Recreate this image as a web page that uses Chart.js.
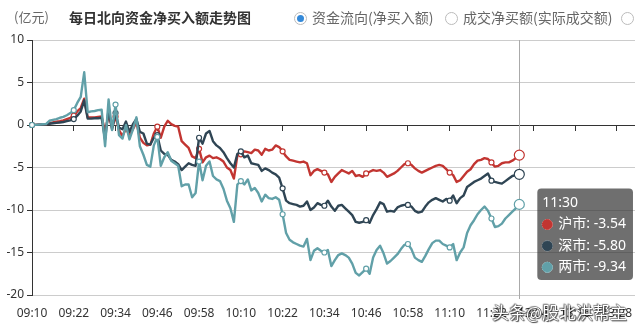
<!DOCTYPE html>
<html>
<head>
<meta charset="utf-8">
<script src="https://cdn.jsdelivr.net/npm/chart.js@4/dist/chart.umd.min.js"></script>
<style>
html,body{margin:0;padding:0;width:635px;height:328px;overflow:hidden;background:#fff;font-family:"Noto Sans CJK SC","Noto Sans",sans-serif;}
#wrap{position:relative;width:960px;height:328px;}
#c{position:absolute;left:0;top:0;}
.unit{position:absolute;left:14px;top:8px;font-size:13px;color:#666;line-height:18px;white-space:nowrap;}
.title{position:absolute;left:69px;top:7px;font-size:14px;font-weight:bold;color:#333;line-height:20px;white-space:nowrap;}
.radio{position:absolute;top:8px;font-size:14px;color:#666;line-height:18px;white-space:nowrap;}
.radio i{display:inline-block;box-sizing:border-box;width:13px;height:13px;border:1px solid #bbb;border-radius:50%;vertical-align:-2px;margin-right:5px;position:relative;}
.radio i.on::after{content:"";position:absolute;left:2px;top:2px;width:7px;height:7px;border-radius:50%;background:#3389d9;}
.wm{position:absolute;left:492px;top:301px;font-size:17px;line-height:22px;color:#fff;white-space:nowrap;
text-shadow:0 0 1px #222,0 0 1px #222,1px 1px 1px rgba(0,0,0,.7),-1px -1px 1px rgba(0,0,0,.4);}
</style>
</head>
<body>
<div id="wrap">
<canvas id="c" width="960" height="328"></canvas>
<div class="unit">(亿元)</div>
<div class="title">每日北向资金净买入额走势图</div>
<div class="radio" style="left:294px"><i class="on"></i>资金流向(净买入额)</div>
<div class="radio" style="left:445px"><i></i>成交净买额(实际成交额)</div>
<div class="radio" style="left:621px"><i></i></div>
<div class="wm">头条@股北洪帮主</div>
</div>
<script>
// categories: trading minutes 09:10-11:30 and 13:01-15:00
const times = [];
function fmt(m){const h=Math.floor(m/60),mm=m%60;return (h<10?'0':'')+h+':'+(mm<10?'0':'')+mm;}
for (let m = 9*60+10; m <= 11*60+30; m++) times.push(fmt(m));
for (let m = 13*60+1; m <= 15*60; m++) times.push(fmt(m));

const seriesNames = ['沪市', '深市', '两市'];
const seriesColors = ['#c23531', '#2f4554', '#61a0a8'];
const yTicks = [10, 5, 0, -5, -10, -15, -20];
const labelEvery = 12;

const shanghai = [
 0,0.02,0.04,0.06,0.08,0.2,0.3,0.4,0.45,0.55,0.7,0.85,1.1,
 1.6,2.0,3.1,0.9,0.9,0.9,0.95,1.0,-0.8,1.2,-0.3,1.0,
 -0.6,-1.3,-0.4,-1.2,-0.5,0.3,-1.5,-2.1,-2.4,-2.3,-1.0,-0.2,
 -1.5,-0.2,0.5,0.1,-0.1,-0.2,-1.9,-2.3,-2.7,-3.7,-3.9,-2.8,
 -4.4,-3.8,-3.6,-3.9,-3.8,-4.0,-4.3,-5.0,-5.3,-6.3,-3.6,-3.45,
 -3.1,-3.2,-3.3,-2.9,-3.0,-3.5,-2.8,-3.0,-2.9,-2.4,-2.6,-3.1,
 -3.7,-4.1,-4.2,-4.3,-4.4,-4.3,-4.5,-5.9,-5.4,-5.2,-5.4,-5.6,
 -5.8,-6.7,-6.1,-5.7,-5.3,-5.5,-5.7,-5.4,-6.0,-5.9,-6.1,-5.7,
 -5.5,-5.3,-5.4,-5.3,-5.6,-6.1,-5.9,-5.7,-5.4,-5.0,-4.6,-4.5,
 -4.7,-5.1,-5.4,-5.6,-5.4,-5.2,-5.0,-4.8,-4.7,-4.8,-5.2,-5.6,
 -5.9,-6.7,-6.5,-6.0,-5.5,-5.2,-4.6,-4.2,-4.1,-3.9,-4.0,-4.4,
 -4.9,-4.8,-4.5,-4.4,-4.4,-4.2,-3.9,-3.54
];
const shenzhen = [
 0,0.01,0.03,0.05,0.07,0.15,0.2,0.25,0.3,0.35,0.45,0.55,0.7,
 1.1,1.6,2.9,0.75,0.75,0.8,0.8,0.85,-1.7,1.8,-0.5,1.4,
 -0.3,-0.5,0.4,-0.8,0.1,0.7,-0.8,-1.0,-2.2,-2.3,-1.5,-1.2,
 -3.0,-3.4,-3.5,-4.1,-4.3,-4.6,-5.3,-4.9,-4.5,-4.7,-4.8,-1.5,
 -2.2,-1.0,-0.7,-1.9,-2.4,-2.7,-3.2,-3.9,-4.5,-5.0,-3.4,-3.1,
 -3.8,-3.6,-4.5,-4.6,-4.7,-5.4,-5.1,-5.3,-5.6,-5.8,-6.2,-7.45,
 -8.9,-9.2,-9.3,-9.4,-9.6,-9.5,-9.0,-10.0,-9.7,-9.2,-9.4,-9.5,
 -8.9,-9.6,-10.1,-9.5,-9.4,-9.8,-10.2,-10.6,-11.4,-11.5,-11.4,-11.2,
 -11.5,-10.6,-9.9,-9.1,-9.3,-10.2,-10.1,-10.2,-9.7,-9.5,-9.4,-9.4,
 -9.6,-10.1,-10.3,-10.2,-9.6,-9.1,-8.8,-8.6,-8.8,-9.0,-8.7,-8.9,
 -8.3,-9.2,-8.6,-8.3,-7.3,-7.0,-6.7,-6.5,-6.3,-6.0,-5.7,-6.55,
 -6.7,-6.8,-6.9,-6.6,-6.3,-6.0,-5.9,-5.80
];
const combined = [
 0,0.02,0.05,0.08,0.1,0.5,0.6,0.7,0.85,0.95,1.15,1.4,1.75,
 2.6,3.3,6.2,1.5,1.6,1.65,1.75,1.8,-2.5,3.0,-0.6,2.4,
 -1.2,-1.6,0.0,-1.7,-0.5,0.9,-2.5,-3.5,-4.7,-4.9,-2.4,-1.4,
 -4.8,-3.8,-3.2,-4.2,-4.5,-4.8,-7.2,-7.0,-7.0,-8.5,-8.0,-4.3,
 -6.5,-4.8,-4.3,-6.0,-6.4,-6.6,-7.5,-8.9,-9.8,-11.4,-7.0,-6.6,
 -7.0,-6.4,-7.7,-7.4,-8.0,-9.0,-8.2,-8.6,-8.7,-8.5,-8.8,-10.5,
 -12.7,-13.5,-13.8,-14.0,-14.2,-14.3,-13.4,-15.9,-14.8,-14.5,-14.8,-15.0,
 -14.7,-16.6,-15.9,-15.3,-15.1,-15.3,-15.6,-16.3,-17.4,-17.7,-17.3,-16.9,
 -17.5,-15.6,-14.7,-14.2,-15.1,-16.3,-16.0,-15.6,-15.2,-14.6,-14.1,-14.0,
 -14.6,-15.6,-15.9,-16.1,-15.4,-14.6,-13.9,-13.6,-13.6,-14.0,-14.2,-14.4,
 -14.0,-15.9,-15.0,-14.4,-12.7,-11.8,-11.2,-10.5,-10.0,-9.6,-10.1,-11.0,
 -12.0,-11.9,-11.6,-11.0,-10.6,-10.2,-9.8,-9.34
];
const seriesData = [shanghai, shenzhen, combined];
const activeTime = '11:30';

const FONT = '"Noto Sans", "Noto Sans CJK SC", sans-serif';
Chart.defaults.font.family = FONT;

Chart.Tooltip.positioners.besidePoint = function(items) {
  if (!items.length) return false;
  const last = items[items.length - 1].element;
  return { x: items[0].element.x + 22, y: last.y - 16 };
};

const crosshair = {
  id: 'crosshair',
  beforeDatasetsDraw(chart) {
    const act = chart.getActiveElements();
    if (!act.length) return;
    const x = act[0].element.x;
    const {top, bottom} = chart.chartArea;
    const ctx = chart.ctx;
    ctx.save();
    ctx.strokeStyle = '#aaa';
    ctx.lineWidth = 1;
    ctx.beginPath();
    ctx.moveTo(Math.round(x) + 0.5, top);
    ctx.lineTo(Math.round(x) + 0.5, bottom + 4);
    ctx.stroke();
    ctx.restore();
  }
};

const datasets = seriesData.map((d, k) => ({
  label: seriesNames[k],
  data: d,
  borderColor: seriesColors[k],
  backgroundColor: seriesColors[k],
  borderWidth: 2.4,
  tension: 0,
  borderJoinStyle: 'round',
  pointRadius: ctx => (ctx.dataIndex % labelEvery === 0 ? 2.5 : 0),
  pointBackgroundColor: '#fff',
  pointBorderColor: seriesColors[k],
  pointBorderWidth: 1.2,
  pointHoverRadius: 5,
  pointHoverBorderWidth: 1.2,
  pointHoverBackgroundColor: '#fff',
  pointHoverBorderColor: seriesColors[k],
  fill: false,
  order: 3 - k
}));

const chart = new Chart(document.getElementById('c'), {
  type: 'line',
  data: { labels: times, datasets },
  plugins: [crosshair],
  options: {
    responsive: false,
    animation: false,
    events: [],
    layout: { padding: { top: 40, right: 23, left: 0, bottom: 0 } },
    plugins: {
      legend: { display: false },
      title: { display: false },
      tooltip: {
        enabled: true,
        mode: 'index',
        intersect: false,
        position: 'besidePoint',
        xAlign: 'left',
        yAlign: 'top',
        caretSize: 0,
        caretPadding: 0,
        cornerRadius: 4,
        backgroundColor: 'rgba(50,50,50,0.7)',
        titleColor: '#fff',
        bodyColor: '#fff',
        titleFont: { family: FONT, size: 14, weight: 'normal', lineHeight: 1.1 },
        bodyFont: { family: FONT, size: 14, weight: 'normal', lineHeight: 1.1 },
        titleMarginBottom: 6,
        bodySpacing: 6,
        padding: { top: 7, bottom: 5, left: 5, right: 7 },
        displayColors: true,
        usePointStyle: true,
        boxWidth: 10,
        boxHeight: 10,
        boxPadding: 4,
        itemSort: (a, b) => a.datasetIndex - b.datasetIndex,
        callbacks: {
          title: items => items.length ? times[items[0].dataIndex] : '',
          label: c => c.dataset.label + ': ' + c.parsed.y.toFixed(2),
          labelColor: c => ({ borderColor: c.dataset.borderColor, backgroundColor: c.dataset.borderColor }),
          labelPointStyle: () => ({ pointStyle: 'circle', rotation: 0 })
        }
      }
    },
    scales: {
      x: {
        type: 'category',
        position: 'bottom',
        grid: { display: false, drawTicks: false },
        border: { display: false },
        ticks: {
          autoSkip: false,
          maxRotation: 0,
          padding: 11,
          color: '#333',
          font: { size: 12 },
          callback: (v, i) => (i % labelEvery === 0 ? times[i] : '')
        },
        afterFit: s => { s.height = 33; }
      },
      xZero: {
        type: 'category',
        position: { y: 0 },
        grid: {
          drawOnChartArea: false,
          drawTicks: true,
          tickLength: 5,
          color: ctx => (ctx.index % labelEvery === 0 ? '#333' : 'rgba(0,0,0,0)'),
          tickColor: ctx => (ctx.index % labelEvery === 0 ? '#333' : 'rgba(0,0,0,0)')
        },
        border: { display: true, color: '#333', width: 1 },
        ticks: { display: false }
      },
      y: {
        min: yTicks[yTicks.length - 1],
        max: yTicks[0],
        afterBuildTicks: s => { s.ticks = yTicks.map(v => ({ value: v })); },
        grid: { color: '#ccc', tickColor: '#333', tickLength: 5, drawTicks: true },
        border: { display: true, color: '#333', width: 1 },
        ticks: { color: '#333', padding: 3, font: { size: 12 } },
        afterFit: s => { s.width = 32; }
      }
    }
  }
});

const idx = times.indexOf(activeTime);
const active = seriesData.map((d, k) => ({ datasetIndex: k, index: idx }));
chart.setActiveElements(active);
chart.tooltip.setActiveElements(active, { x: 0, y: 0 });
chart.update();
</script>
</body>
</html>
